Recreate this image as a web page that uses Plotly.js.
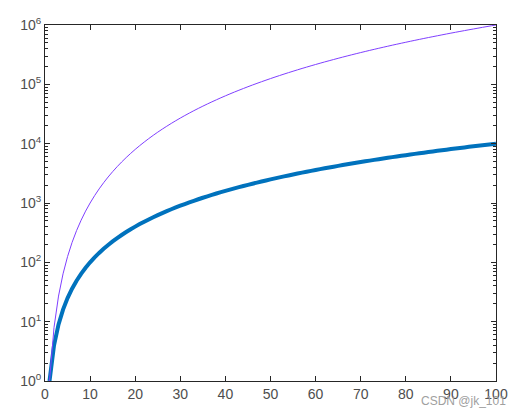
<!DOCTYPE html>
<html>
<head>
<meta charset="utf-8">
<script src="https://cdn.plot.ly/plotly-3.0.1.min.js"></script>
<style>html,body{margin:0;padding:0;background:#fff;}#chart{width:525px;height:417px;}</style>
</head>
<body>
<div id="chart"></div>
<script>
const xValues = [1,2,3,4,5,6,7,8,9,10,11,12,13,14,15,16,17,18,19,20,21,22,23,24,25,26,27,28,29,30,31,32,33,34,35,36,37,38,39,40,41,42,43,44,45,46,47,48,49,50,51,52,53,54,55,56,57,58,59,60,61,62,63,64,65,66,67,68,69,70,71,72,73,74,75,76,77,78,79,80,81,82,83,84,85,86,87,88,89,90,91,92,93,94,95,96,97,98,99,100];
const blueValues = [1,4,9,16,25,36,49,64,81,100,121,144,169,196,225,256,289,324,361,400,441,484,529,576,625,676,729,784,841,900,961,1024,1089,1156,1225,1296,1369,1444,1521,1600,1681,1764,1849,1936,2025,2116,2209,2304,2401,2500,2601,2704,2809,2916,3025,3136,3249,3364,3481,3600,3721,3844,3969,4096,4225,4356,4489,4624,4761,4900,5041,5184,5329,5476,5625,5776,5929,6084,6241,6400,6561,6724,6889,7056,7225,7396,7569,7744,7921,8100,8281,8464,8649,8836,9025,9216,9409,9604,9801,10000];
const purpleValues = [1,8,27,64,125,216,343,512,729,1000,1331,1728,2197,2744,3375,4096,4913,5832,6859,8000,9261,10648,12167,13824,15625,17576,19683,21952,24389,27000,29791,32768,35937,39304,42875,46656,50653,54872,59319,64000,68921,74088,79507,85184,91125,97336,103823,110592,117649,125000,132651,140608,148877,157464,166375,175616,185193,195112,205379,216000,226981,238328,250047,262144,274625,287496,300763,314432,328509,343000,357911,373248,389017,405224,421875,438976,456533,474552,493039,512000,531441,551368,571787,592704,614125,636056,658503,681472,704969,729000,753571,778688,804357,830584,857375,884736,912673,941192,970299,1000000];
const yTickVals = [1,10,100,1000,10000,100000,1000000];
const yTickText = ['10<sup>0</sup>','10<sup>1</sup>','10<sup>2</sup>','10<sup>3</sup>','10<sup>4</sup>','10<sup>5</sup>','10<sup>6</sup>'];
const xTickVals = [0,10,20,30,40,50,60,70,80,90,100];
const minorDigits = [2,3,4,5,6,7,8,9];
const watermark = 'CSDN @jk_101';

const yMinorVals = [];
yTickVals.slice(0, -1).forEach(d => minorDigits.forEach(m => yMinorVals.push(d * m)));

const traces = [
  {x: xValues, y: blueValues, type: 'scatter', mode: 'lines', line: {color: '#0072BD', width: 4, simplify: false}, hoverinfo: 'none'},
  {x: xValues, y: purpleValues, type: 'scatter', mode: 'lines', line: {color: '#7F3FFF', width: 1, simplify: false}, hoverinfo: 'none'}
];
const axisCommon = {
  showgrid: false, zeroline: false, showline: true, linecolor: '#262626', linewidth: 1,
  mirror: 'allticks', ticks: 'inside', ticklen: 5, tickcolor: '#262626', tickwidth: 1,
  tickfont: {family: 'Liberation Sans, Arial, sans-serif', size: 14, color: '#4d4d4d'}
};
const layout = {
  width: 525, height: 417,
  margin: {l: 45, r: 29, t: 25, b: 36},
  paper_bgcolor: '#fff', plot_bgcolor: '#fff',
  showlegend: false,
  xaxis: Object.assign({}, axisCommon, {range: [0, 100], tickmode: 'array', tickvals: xTickVals}),
  yaxis: Object.assign({}, axisCommon, {type: 'log', range: [0, 6], tickmode: 'array', tickvals: yTickVals, ticktext: yTickText,
    minor: {tickmode: 'array', tickvals: yMinorVals, ticks: 'inside', ticklen: 3, tickcolor: '#262626', tickwidth: 1, showgrid: false}}),
  annotations: [{text: watermark, xref: 'paper', yref: 'paper', x: 1.027, y: -0.056, xanchor: 'right', yanchor: 'middle', showarrow: false,
    font: {family: 'Liberation Sans, Arial, sans-serif', size: 12, color: '#a0a0a0'}}]
};
Plotly.newPlot('chart', traces, layout, {displayModeBar: false, staticPlot: true});
</script>
</body>
</html>
